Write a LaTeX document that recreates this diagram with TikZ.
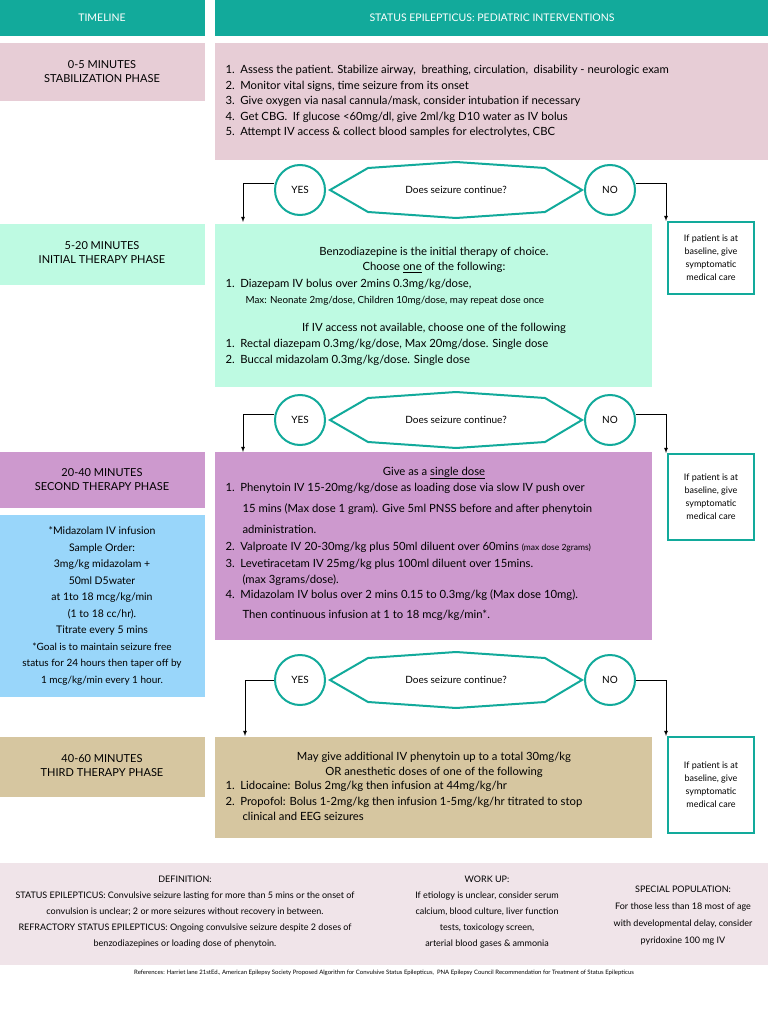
\documentclass[tikz,border=0pt]{standalone}
\usepackage{fontspec}
\setmainfont{Lato}
\begin{document}
\begin{tikzpicture}[x=1pt,y=-1pt,
  lbl/.style={font=\fontsize{11}{14}\selectfont,align=center},
  body/.style={font=\fontsize{11.3}{15.5}\selectfont,align=left,anchor=north west},
  circ/.style={circle,draw=teal0,line width=2pt,fill=white,minimum size=50pt,inner sep=0pt,font=\fontsize{10}{12}\selectfont},
  hexa/.style={draw=teal0,line width=2pt,fill=white},
  base/.style={draw=teal0,line width=2pt,fill=white,font=\fontsize{9}{13}\selectfont,align=center,minimum width=86pt},
  arr/.style={->,>=latex,line width=0.8pt}]
\definecolor{teal0}{RGB}{18,170,155}
\definecolor{pinkA}{RGB}{231,205,214}
\definecolor{mint}{RGB}{190,250,226}
\definecolor{purp}{RGB}{205,153,206}
\definecolor{lblue}{RGB}{153,214,250}
\definecolor{tan0}{RGB}{214,198,160}
\definecolor{pinkB}{RGB}{240,228,233}
\useasboundingbox (0,0) rectangle (768,1024);
\fill[white] (0,0) rectangle (768,1024);
% headers
\fill[teal0] (0,0) rectangle (205,36); \node[text=white,font=\fontsize{10.5}{12}\selectfont] (h1) at (102,18) {TIMELINE};
\fill[teal0] (215,0) rectangle (768,36); \node[text=white,font=\fontsize{10.5}{12}\selectfont] (h2) at (492,18) {STATUS EPILEPTICUS: PEDIATRIC INTERVENTIONS};
% stabilization
\fill[pinkA] (0,43) rectangle (205,101); \node[lbl] (t1) at (102,72) {0-5 MINUTES\\STABILIZATION PHASE};
\fill[pinkA] (215,43) rectangle (768,160);
\node[body] (b1) at (222,62) {1.\enspace Assess the patient. Stabilize airway,\enspace breathing, circulation,\enspace disability - neurologic exam\\
2.\enspace Monitor vital signs, time seizure from its onset\\
3.\enspace Give oxygen via nasal cannula/mask, consider intubation if necessary\\
4.\enspace Get CBG.\enspace If glucose {<}60mg/dl, give 2ml/kg D10 water as IV bolus\\
5.\enspace Attempt IV access \& collect blood samples for electrolytes, CBC};
% decisions
\foreach \yy/\nm in {190/a,420/b,680/c}{
  \draw[hexa] (330,\yy) -- (368,\yy-22) -- (456,\yy-28) -- (545,\yy-22) -- (582,\yy) -- (545,\yy+22) -- (456,\yy+28) -- (368,\yy+22) -- cycle;
  \node[font=\fontsize{10}{12}\selectfont] (q\nm) at (456,\yy) {Does seizure continue?};
  \node[circ] (y\nm) at (300,\yy) {YES};
  \node[circ] (n\nm) at (610,\yy) {NO};
}
% initial
\fill[mint] (0,224) rectangle (205,285); \node[lbl] (t2) at (102,253) {5-20 MINUTES\\INITIAL THERAPY PHASE};
\fill[mint] (215,224) rectangle (652,387);
\node[font=\fontsize{11.3}{15.5}\selectfont,align=center] (b2a) at (434,260) {Benzodiazepine is the initial therapy of choice.\\Choose \underline{one} of the following:};
\node[body] (b2b) at (222,276) {1.\enspace Diazepam IV bolus over 2mins 0.3mg/kg/dose,\\
\hspace*{20pt}{\fontsize{9.8}{12}\selectfont Max: Neonate 2mg/dose, Children 10mg/dose, may repeat dose once}};
\node[font=\fontsize{11.3}{14}\selectfont] (b2c) at (434,328) {If IV access not available, choose one of the following};
\node[body] (b2d) at (222,336) {1.\enspace Rectal diazepam 0.3mg/kg/dose, Max 20mg/dose. Single dose\\
2.\enspace Buccal midazolam 0.3mg/kg/dose. Single dose};
% second
\fill[purp] (0,452) rectangle (205,508); \node[lbl] (t3) at (102,480) {20-40 MINUTES\\SECOND THERAPY PHASE};
\fill[lblue] (0,515) rectangle (205,697);
\node[font=\fontsize{10.5}{16.5}\selectfont,align=center] (mz) at (102,606) {*Midazolam IV infusion\\Sample Order:\\3mg/kg midazolam +\\50ml D5water\\at 1to 18 mcg/kg/min\\(1 to 18 cc/hr).\\Titrate every 5 mins\\{\fontsize{10}{16.5}\selectfont *Goal is to maintain seizure free}\\{\fontsize{10}{16.5}\selectfont status for 24 hours then taper off by}\\{\fontsize{10}{16.5}\selectfont 1 mcg/kg/min every 1 hour.}};
\fill[purp] (215,452) rectangle (652,640);
\node[font=\fontsize{11.3}{14}\selectfont] (b3a) at (434,473) {Give as a \underline{single dose}};
\node[body,font=\fontsize{11.3}{21}\selectfont] (b3b) at (222,480) {1.\enspace Phenytoin IV 15-20mg/kg/dose as loading dose via slow IV push over\\
\hspace*{17pt}15 mins (Max dose 1 gram). Give 5ml PNSS before and after phenytoin\\
\hspace*{17pt}administration.};
\node[body,font=\fontsize{11.3}{16.5}\selectfont] (b3c) at (222,539) {2.\enspace Valproate IV 20-30mg/kg plus 50ml diluent over 60mins {\fontsize{8.5}{10}\selectfont(max dose 2grams)}\\
3.\enspace Levetiracetam IV 25mg/kg plus 100ml diluent over 15mins.\\
\hspace*{17pt}(max 3grams/dose).};
\node[body,font=\fontsize{11.3}{20}\selectfont] (b3d) at (222,586) {4.\enspace Midazolam IV bolus over 2 mins 0.15 to 0.3mg/kg (Max dose 10mg).\\
\hspace*{17pt}Then continuous infusion at 1 to 18 mcg/kg/min*.};
% third
\fill[tan0] (0,737) rectangle (205,797); \node[lbl] (t4) at (102,766) {40-60 MINUTES\\THIRD THERAPY PHASE};
\fill[tan0] (215,737) rectangle (652,838);
\node[font=\fontsize{11.3}{15.5}\selectfont,align=center] (b4a) at (434,765) {May give additional IV phenytoin up to a total 30mg/kg\\OR anesthetic doses of one of the following};
\node[body] (b4b) at (222,778) {1.\enspace Lidocaine: Bolus 2mg/kg then infusion at 44mg/kg/hr\\
2.\enspace Propofol: Bolus 1-2mg/kg then infusion 1-5mg/kg/hr titrated to stop\\
\hspace*{17pt}clinical and EEG seizures};
% baseline boxes
\node[base,minimum height=72pt] (p1) at (711,258) {If patient is at\\baseline, give\\symptomatic\\medical care};
\node[base,minimum height=86pt] (p2) at (711,497) {If patient is at\\baseline, give\\symptomatic\\medical care};
\node[base,minimum height=96pt] (p3) at (711,785) {If patient is at\\baseline, give\\symptomatic\\medical care};
% connectors
\coordinate (ya1) at (243,183); \coordinate (ya2) at (243,222);
\draw[arr] (ya.west|-ya1) -- (ya1) -- (ya2);
\coordinate (na1) at (666,183);
\draw[arr] (na.east|-na1) -- (na1) -- (p1.north-|na1);
\coordinate (yb1) at (243,414); \coordinate (yb2) at (243,452);
\draw[arr] (yb.west|-yb1) -- (yb1) -- (yb2);
\coordinate (nb1) at (666,414);
\draw[arr] (nb.east|-nb1) -- (nb1) -- (p2.north-|nb1);
\coordinate (yc1) at (245,680); \coordinate (yc2) at (245,736);
\draw[arr] (yc.west|-yc1) -- (yc1) -- (yc2);
\coordinate (nc1) at (666,680);
\draw[arr] (nc.east|-nc1) -- (nc1) -- (p3.north-|nc1);
% bottom
\fill[pinkB] (0,863) rectangle (768,965);
\node[font=\fontsize{9}{16}\selectfont,align=center] (d1) at (185,912) {DEFINITION:\\STATUS EPILEPTICUS: Convulsive seizure lasting for more than 5 mins or the onset of\\convulsion is unclear; 2 or more seizures without recovery in between.\\REFRACTORY STATUS EPILEPTICUS: Ongoing convulsive seizure despite 2 doses of\\benzodiazepines or loading dose of phenytoin.};
\node[font=\fontsize{9}{16}\selectfont,align=center] (d2) at (487,912) {WORK UP:\\If etiology is unclear, consider serum\\calcium, blood culture, liver function\\tests, toxicology screen,\\arterial blood gases \& ammonia};
\node[font=\fontsize{9}{17}\selectfont,align=center] (d3) at (683,916) {SPECIAL POPULATION:\\For those less than 18 most of age\\with developmental delay, consider\\pyridoxine 100 mg IV};
\node[font=\fontsize{6}{8}\selectfont] (ref) at (384,973) {References: Harriet lane 21stEd., American Epilepsy Society Proposed Algorithm for Convulsive Status Epilepticus,\enspace PNA Epilepsy Council Recommendation for Treatment of Status Epilepticus};
\end{tikzpicture}
\end{document}
